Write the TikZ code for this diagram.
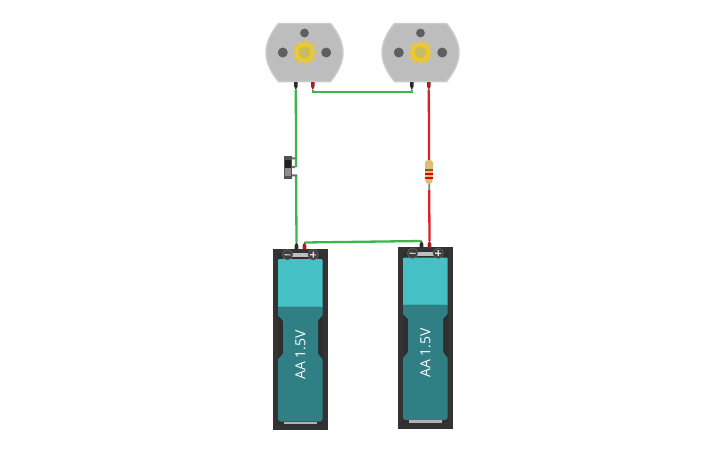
\documentclass[tikz,border=0pt]{standalone}
\usepackage{fontspec}
\setsansfont{Open Sans}
\definecolor{wgreen}{HTML}{3DB54A}
\definecolor{wred}{HTML}{D8232A}
\definecolor{tred}{HTML}{A81E24}
\definecolor{tblack}{HTML}{2B2B2B}
\definecolor{mbody}{HTML}{BDBDBD}
\definecolor{medge}{HTML}{CBCBCB}
\definecolor{mhole}{HTML}{5F5F5F}
\definecolor{gearc}{HTML}{EBC92F}
\definecolor{gearm}{HTML}{C9BB62}
\definecolor{holder}{HTML}{333333}
\definecolor{holderd}{HTML}{2E2E2E}
\definecolor{celllight}{HTML}{45C1C5}
\definecolor{celldark}{HTML}{2F7F85}
\definecolor{tan1}{HTML}{DDBD78}
\tikzset{
  x=1pt,y=-1pt,
  greenwire/.style={draw=wgreen,line width=2.3pt},
  redwire/.style={draw=wred,line width=2.3pt},
  motorhole/.style={fill=mhole},
  swpin/.style={draw=gray!85!black,line width=2pt},
  batterylabel/.style={text=white,font=\sffamily\fontsize{14}{14}\selectfont,rotate=90,inner sep=0pt},
  motor/.pic={
    \path[fill=mbody,draw=medge,line width=1.5pt]
      (-26,-29) -- (26,-29) .. controls (35,-18) and (38.5,-8) .. (38.5,0)
      .. controls (38.5,8) and (35,18) .. (26,29) -- (-26,29)
      .. controls (-35,18) and (-38.5,8) .. (-38.5,0)
      .. controls (-38.5,-8) and (-35,-18) .. (-26,-29) -- cycle;
    \fill[motorhole] (0,-19.5) circle[radius=4.4];
    \fill[motorhole] (-21.7,0) circle[radius=5];
    \fill[motorhole] (21.7,0) circle[radius=5];
    \fill[gearc] (0,0) circle[radius=9.8];
    \foreach \a in {0,30,...,330}{
      \fill[gearc] (\a-8:9) -- (\a-4:12.2) -- (\a+4:12.2) -- (\a+8:9) -- cycle;
    }
    \fill[gearm] (0,0) circle[radius=5.8];
    \fill[tblack] (-10.5,29.5) -- (-7,29.5) -- (-7,34) -- (-8.7,37.5) -- (-10.3,34) -- cycle;
    \fill[tred] (6.5,29.5) -- (10,29.5) -- (10,34) -- (8.3,37.5) -- (6.5,34) -- cycle;
    \coordinate (-neg) at (-8.7,37);
    \coordinate (-pos) at (8.3,37);
  },
  battery/.pic={
    \fill[holder] (0,0) rectangle (55.5,181.5);
    \fill[holderd] (5,5) rectangle (50.5,176);
    \path[fill=celllight] (6.5,10.5) -- (49,10.5) -- (50,11.5) -- (50,58) -- (5.5,58) -- (5.5,11.5) -- cycle;
    \path[fill=celldark] (5.5,58) -- (50,58) -- (50,67) -- (45.5,72) -- (45.5,105) -- (50,111)
      -- (50,171) -- (48,173) -- (7.5,173) -- (5.5,171) -- (5.5,111) -- (10.5,105) -- (10.5,72) -- (5.5,67) -- cycle;
    \fill[celllight!70!celldark] (5.5,57) rectangle (50,58);
    \fill[gray!50] (12,4.7) rectangle (44,8.7);
    \fill[gray!60] (11.5,173) rectangle (44.5,175.5);
    \fill[gray!75!black] (15,6.2) circle[radius=5.6];
    \fill[gray!75!black] (40.7,6.2) circle[radius=5.6];
    \fill[holder!85!gray] (15,6.2) circle[radius=4.7];
    \fill[holder!85!gray] (40.7,6.2) circle[radius=4.7];
    \draw[gray!35,line width=1.2pt] (12,6.3) -- (18,6.4);
    \draw[gray!20,line width=1.2pt] (37.7,6.3) -- (43.7,6.4) (40.7,3.2) -- (40.8,9.2);
    \fill[tblack] (22.2,0.5) -- (25.8,0.5) -- (25.8,-3) -- (24,-6.5) -- (22.2,-3) -- cycle;
    \fill[tred] (30,0.5) -- (33.8,0.5) -- (33.8,-3) -- (32,-6.5) -- (30,-3) -- cycle;
    \coordinate (-neg) at (24,-6);
    \coordinate (-pos) at (32,-6);
  }
}
\begin{document}
\begin{tikzpicture}
\useasboundingbox (0,0) rectangle (725,453);
\coordinate (sw1) at (296.1,167);
\coordinate (sw3) at (296.1,175);
\coordinate (r1) at (429.1,162);
\coordinate (r2) at (429.2,190);
\pic (mA) at (304.5,52.5) {motor};
\pic (mB) at (420.5,52.5) {motor};
\pic (bA) at (272.5,248.5) {battery};
\pic (bB) at (397.5,247) {battery};
\node[batterylabel] (lblA) at (300.5,355) {AA 1.5V};
\node[batterylabel] (lblB) at (425.5,353) {AA 1.5V};
\draw[greenwire] (mA-neg) -- (sw1);
\draw[greenwire] (sw3) -- (bA-neg);
\coordinate (jog) at ([yshift=-2.6pt]mA-pos);
\draw[greenwire] (mA-pos) -- (jog) -- (mB-neg |- jog) -- (mB-neg);
\draw[greenwire] (bA-pos) -- (bB-neg);
\draw[redwire] (mB-pos) -- (r1);
\draw[redwire] (r2) -- (bB-pos);
% switch
\draw[swpin] (291,158.3) -- (295.2,158.5) (291,167) -- (295.2,167.2) (291,175.3) -- (296.8,175.5);
\node[fill=black!68,minimum width=8.3pt,minimum height=22.8pt,inner sep=0pt] (sw) at (287.9,167.4) {};
\fill[black!88] (285,159.5) rectangle (290.8,168);
\fill[black!45] (285.3,168) rectangle (290.5,176);
% resistor
\draw[gray,line width=1.8pt] (429.1,180) -- (429.3,190);
\path[fill=tan1] (429,160) .. controls (433,160) and (433.5,163) .. (433,166) -- (432.7,178) .. controls (433,183) and (431,184) .. (429,184)
  .. controls (427,184) and (425,183) .. (425.3,178) -- (425,166) .. controls (424.5,163) and (425,160) .. (429,160) -- cycle;
\fill[brown!70!black] (425.1,168.8) rectangle (432.9,171.2);
\fill[red!90!black] (425.2,173.2) rectangle (432.8,175.2);
\fill[red!90!black] (425.2,177) rectangle (432.8,179);
\end{tikzpicture}
\end{document}
